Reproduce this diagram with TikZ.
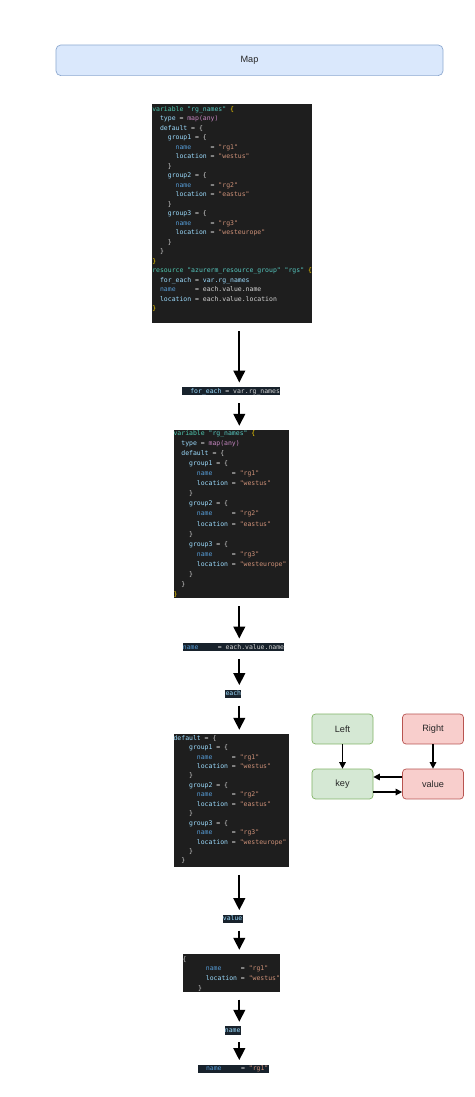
\documentclass[tikz,border=0pt]{standalone}
\usepackage{fontspec}
\setmainfont{Liberation Sans}
\setmonofont{DejaVu Sans Mono}
\usetikzlibrary{arrows.meta}

\definecolor{codebg}{HTML}{1E1E1E}
\definecolor{lblbg}{HTML}{18222C}
\definecolor{codetxt}{HTML}{D4D4D4}
\definecolor{hclkw}{HTML}{4EC9B0}
\definecolor{hcllbl}{HTML}{56C8C0}
\definecolor{hclkey}{HTML}{9CDCFE}
\definecolor{hclname}{HTML}{569CD6}
\definecolor{hclstr}{HTML}{CE9178}
\definecolor{hclfn}{HTML}{C586C0}
\definecolor{hclbr}{HTML}{FFD700}
\definecolor{mapfill}{HTML}{DAE8FC}
\definecolor{mapdraw}{HTML}{8FAAD1}
\definecolor{grfill}{HTML}{D5E8D4}
\definecolor{grdraw}{HTML}{82B366}
\definecolor{rdfill}{HTML}{F8CECC}
\definecolor{rddraw}{HTML}{B85450}

\newcommand{\cKw}[1]{\textcolor{hclkw}{#1}}
\newcommand{\cLbl}[1]{\textcolor{hcllbl}{#1}}
\newcommand{\cKey}[1]{\textcolor{hclkey}{#1}}
\newcommand{\cNm}[1]{\textcolor{hclname}{#1}}
\newcommand{\cStr}[1]{\textcolor{hclstr}{#1}}
\newcommand{\cFn}[1]{\textcolor{hclfn}{#1}}
\newcommand{\cBr}[1]{\textcolor{hclbr}{#1}}
\newcommand{\cI}[1]{\hspace*{#1\fontcharwd\font`x}}
\newcommand{\cGroup}[3]{%
\cI{4}\cKey{#1}~=~\{\\
\cI{6}\cNm{name}~~~~~=~\cStr{"#2"}\\
\cI{6}\cKey{location}~=~\cStr{"#3"}\\
\cI{4}\}}
\newcommand{\cGroups}{%
\cGroup{group1}{rg1}{westus}\\
\cGroup{group2}{rg2}{eastus}\\
\cGroup{group3}{rg3}{westeurope}}

\tikzset{
  code/.style={fill=codebg, inner sep=0pt, anchor=north west, text=codetxt,
    font=\fontsize{4.6pt}{#1}\selectfont\ttfamily},
  snip/.style={fill=lblbg, anchor=north west, text=codetxt, inner xsep=0.2pt, inner ysep=0.4pt,
    text height=3.9pt, text depth=1.2pt, font=\fontsize{4.6pt}{5.5pt}\selectfont\ttfamily},
  flow/.style={line width=1.4pt, -{Triangle[length=8.5pt,width=8.3pt]}, shorten <=5.3pt, shorten >=3pt},
  link/.style={line width=0.9pt, -{Triangle[length=4.6pt,width=4.6pt]}},
  box/.style={rounded corners=2.5pt, line width=0.5pt, minimum width=43.4pt, minimum height=21.3pt,
    text=black!85, font=\fontsize{6.5pt}{8pt}\selectfont},
  leftbox/.style={box, fill=grfill, draw=grdraw},
  rightbox/.style={box, fill=rdfill, draw=rddraw}
}

\begin{document}
\begin{tikzpicture}[x=0.025cm, y=-0.025cm]
    \useasboundingbox[fill=white] (0,0) rectangle (474,1097);
    \coordinate (ax) at (239.3,0);

    \node[box, fill=mapfill, draw=mapdraw, rounded corners=3.5pt, minimum width=275.3pt, minimum height=21.8pt] (map) at (249.5,60.3) {Map};

    \node[code=6.74pt] (code1) at (152,104) {\parbox[t][155.8pt][t]{113.8pt}{\vspace*{1.6pt}%
\cKw{variable}~\cLbl{"rg\_names"}~\cBr{\{}\\
\cI{2}\cKey{type}~=~\cFn{map(any)}\\
\cI{2}\cKey{default}~=~\{\\
\cGroups\\
\cI{2}\}\\
\cBr{\}}\\
\cKw{resource}~\cLbl{"azurerm\_resource\_group"}~\cLbl{"rgs"}~\cBr{\{}\\
\cI{2}\cKey{for\_each}~=~\cKey{var.rg\_names}\\
\cI{2}\cNm{name}~~~~~=~each.value.name\\
\cI{2}\cKey{location}~=~each.value.location\\
\cBr{\}}}};
    \node[snip] (lbl1) at (182,386.7) {~~\cKey{for\_each}~=~var.rg\_names};

    \node[code=7.14pt] (code2) at (173.3,430) {\parbox[t][119.5pt][t]{81.8pt}{\vspace*{0.3pt}%
\cKw{variable}~\cLbl{"rg\_names"}~\cBr{\{}\\
\cI{2}\cKey{type}~=~\cFn{map(any)}\\
\cI{2}\cKey{default}~=~\{\\
\cGroups\\
\cI{2}\}\\
\cBr{\}}}};
    \node[snip] (lbl2) at (182.3,642.7) {\cNm{name}~~~~~=~each.value.name};
    \node[snip] (lbl3) at (225,689.3) {\cKey{each}};

    \node[code=6.71pt] (code3) at (173.3,734) {\parbox[t][94.4pt][t]{82.3pt}{\vspace*{0.7pt}%
\cKey{default}~=~\{\\
\cGroups\\
\cI{2}\}}};
    \node[snip] (lbl4) at (222.3,914.3) {\cKey{value}};

    \node[code=6.9pt] (code4) at (182.3,954) {\parbox[t][26.8pt][t]{69.5pt}{\vspace*{1.4pt}%
\{\\
\cI{6}\cNm{name}~~~~~=~\cStr{"rg1"}\\
\cI{6}\cKey{location}~=~\cStr{"westus"}\\
\cI{4}\}}};
    \node[snip] (lbl5) at (224.3,1026) {\cKey{name}};
    \node[snip] (lbl6) at (197.7,1064.3) {~~\cNm{name}~~~~~=~\cStr{"rg1"}};

    \draw[flow] (code1.south -| ax) -- (lbl1.north -| ax);
    \draw[flow] (lbl1.south -| ax) -- (code2.north -| ax);
    \draw[flow] (code2.south -| ax) -- (lbl2.north -| ax);
    \draw[flow] (lbl2.south -| ax) -- (lbl3.north -| ax);
    \draw[flow] (lbl3.south -| ax) -- (code3.north -| ax);
    \draw[flow] (code3.south -| ax) -- (lbl4.north -| ax);
    \draw[flow] (lbl4.south -| ax) -- (code4.north -| ax);
    \draw[flow] (code4.south -| ax) -- (lbl5.north -| ax);
    \draw[flow] (lbl5.south -| ax) -- (lbl6.north -| ax);

    \node[leftbox] (left) at (342.5,729) {Left};
    \node[rightbox] (right) at (433,729) {Right};
    \node[leftbox] (key) at (342.5,784) {key};
    \node[rightbox] (value) at (433,784) {value};
    \draw[link] (left) -- (key);
    \draw[link] (right) -- (value);
    \draw[link] ([yshift=5pt]value.west) -- ([yshift=5pt]key.east);
    \draw[link] ([yshift=-5.7pt]key.east) -- ([yshift=-5.7pt]value.west);
\end{tikzpicture}
\end{document}
